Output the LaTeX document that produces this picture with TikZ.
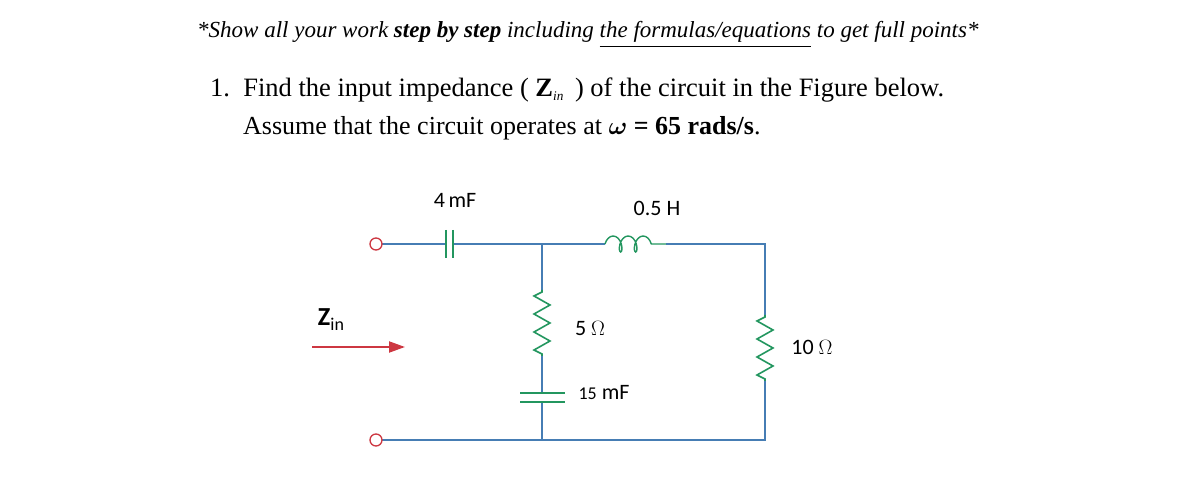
\documentclass[tikz,border=0pt]{standalone}
\usepackage{amsmath,amssymb}
\usepackage{fontspec}
\setmainfont{Liberation Serif}
\newfontfamily\lab{Carlito}
\usetikzlibrary{decorations.pathmorphing,arrows.meta}
\definecolor{wire}{RGB}{70,125,180}
\definecolor{comp}{RGB}{35,150,95}
\definecolor{term}{RGB}{205,55,65}
\begin{document}
\begin{tikzpicture}[x=1pt,y=-1pt,
  w/.style={wire,line width=1.6pt},
  c/.style={comp,line width=1.6pt},
  lbl/.style={font=\lab\fontsize{22}{24}\selectfont,inner sep=0pt},
  txt/.style={inner sep=0pt,anchor=base west}]
\useasboundingbox (0,0) rectangle (1179,494);
% text
\node[txt,font=\fontsize{23}{25}\selectfont\itshape] (t1) at (197,38) {*Show all your work \textbf{step by step} including \underline{the formulas/equations} to get full points*};
\node[txt,font=\fontsize{26.5}{28}\selectfont] (t2) at (210,97) {1.\ \ Find the input impedance ( $\mathbf{Z}_{\scriptscriptstyle\mathit{in}}$\, ) of the circuit in the Figure below.};
\node[txt,font=\fontsize{26}{28}\selectfont] (t3) at (243,135) {Assume that the circuit operates at \textbf{$\boldsymbol\omega$ = 65 rads/s}.};
% coordinates
\coordinate (a) at (376,244);
\coordinate (b) at (376,440);
\coordinate (c1) at (446,244); \coordinate (c2) at (453,244);
\coordinate (j) at (542,244);
\coordinate (l1) at (605,244); \coordinate (l2) at (666,244);
\coordinate (tr) at (765,244);
\coordinate (r1a) at (542,290); \coordinate (r1b) at (542,356);
\coordinate (c3a) at (542,393); \coordinate (c3b) at (542,402);
\coordinate (jb) at (542,440);
\coordinate (r2a) at (765,315); \coordinate (r2b) at (765,381);
\coordinate (br) at (765,440);
% wires
\draw[w] (a) -- (c1) (c2) -- (l1) (l2) -- (tr) -- (r2a) (r2b) -- (br) -- (b);
\draw[w] (j) -- (r1a) (r1b) -- (c3a) (c3b) -- (jb);
% capacitors
\draw[c] (446,230) -- (446,258) (453,230) -- (453,258);
\draw[c] (520,393) -- (565,393) (520,402) -- (565,402);
% inductor
\draw[c,line width=1.4pt,decorate,decoration={coil,amplitude=8pt,segment length=15pt,aspect=0.55,pre length=0pt,post length=0pt}] (l1) -- (l2);
% resistors
\draw[c] (r1a) -- ++(0,2) -- ++(-8,4) \foreach \i in {1,...,3}{-- ++(16,9) -- ++(-16,9)} -- ++(8,4) -- (r1b);
\draw[c] (r2a) -- ++(0,2) -- ++(-8,4) \foreach \i in {1,...,3}{-- ++(16,9) -- ++(-16,9)} -- ++(8,4) -- (r2b);
% terminals
\draw[term,line width=1.3pt,fill=white] (a) circle (6);
\draw[term,line width=1.3pt,fill=white] (b) circle (6);
% arrow
\coordinate (za) at (312,347); \coordinate (zb) at (405,347);
\draw[term,line width=2pt,-{Triangle[length=16pt,width=11pt]}] (za) -- (zb);
% labels
\node[lbl,font=\lab\fontsize{26}{28}\selectfont\bfseries] (zin) at (331,320) {Z\textmd{\fontsize{18}{20}\selectfont\raisebox{-5pt}{in}}};
\node[lbl] (L1) at (455,200) {4\,mF};
\node[lbl] (L2) at (657,208) {0.5 H};
\node[lbl] (L3) at (590,328) {5 $\Omega$};
\node[lbl] (L4) at (812,347) {10 $\Omega$};
\node[lbl] (L5) at (604,393) {{\fontsize{18}{20}\selectfont 15} mF};
\end{tikzpicture}
\end{document}
